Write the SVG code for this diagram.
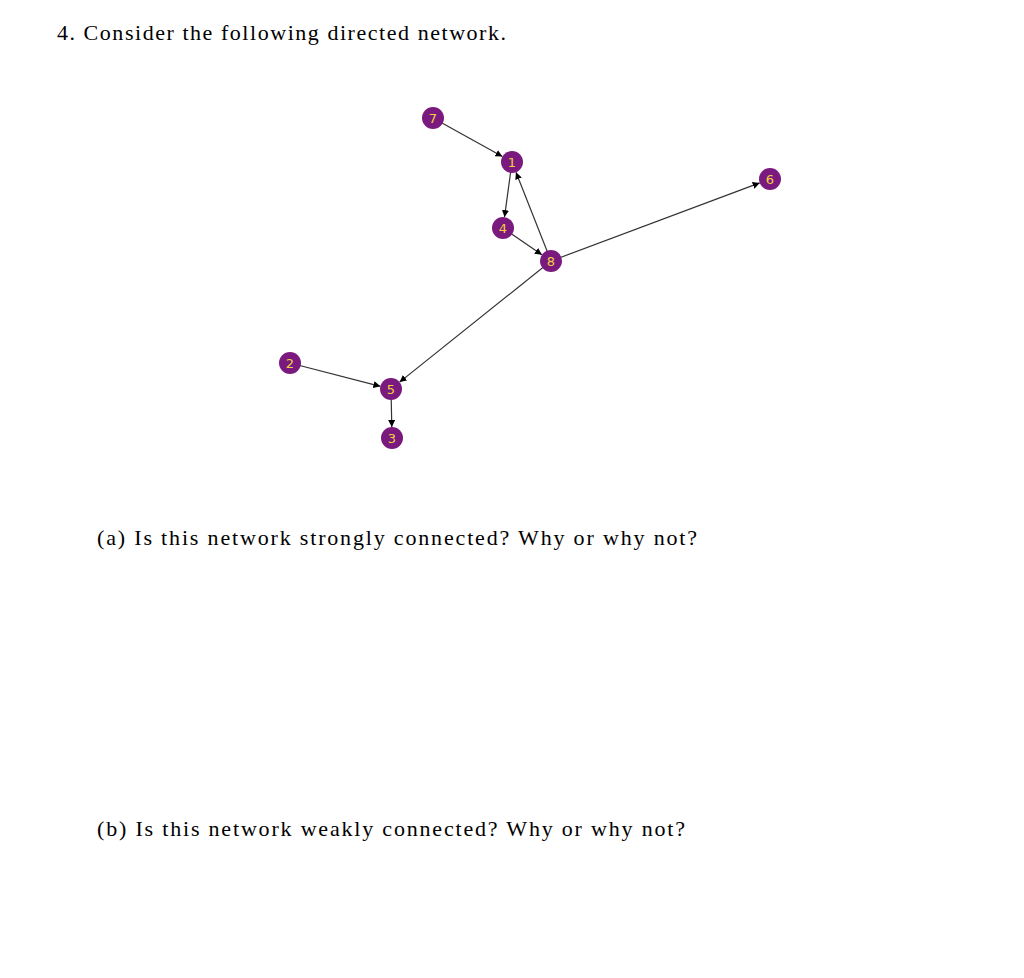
<svg xmlns="http://www.w3.org/2000/svg" width="1024" height="978" viewBox="0 0 1024 978">
<style>
.t{font-family:"Liberation Serif","DejaVu Serif",serif;font-size:22px;fill:#000}
.e{stroke:#333;stroke-width:1.2;fill:none;marker-end:url(#a)}
.n circle{fill:#7b1a7e}
.n text{font-family:"DejaVu Sans",sans-serif;font-size:13px;fill:#f0d040;text-anchor:middle;dominant-baseline:central}
</style>
<defs><marker id="a" viewBox="0 0 10 10" refX="10" refY="5" markerWidth="7" markerHeight="7" markerUnits="userSpaceOnUse" orient="auto"><path d="M0,0L10,5L0,10z" fill="#000"/></marker></defs>
<rect width="1024" height="978" fill="#fff"/>
<text class="t" x="57" y="40" textLength="449">4. Consider the following directed network.</text>
<text class="t" x="97" y="545" textLength="600">(a) Is this network strongly connected? Why or why not?</text>
<text class="t" x="97" y="836" textLength="588">(b) Is this network weakly connected? Why or why not?</text>
<g id="edges">
<line class="e" x1="433" y1="118" x2="502.4" y2="156.6"/>
<line class="e" x1="512" y1="162" x2="504.5" y2="217.1"/>
<line class="e" x1="503" y1="228" x2="541.9" y2="254.8"/>
<line class="e" x1="551" y1="261" x2="516" y2="172.2"/>
<line class="e" x1="551" y1="261" x2="759.7" y2="182.9"/>
<line class="e" x1="551" y1="261" x2="399.6" y2="382.1"/>
<line class="e" x1="290" y1="363" x2="380.4" y2="386.3"/>
<line class="e" x1="391" y1="389" x2="391.8" y2="427"/>
</g>
<g id="n7" class="n"><circle cx="433" cy="118" r="11"/><text x="433" y="118">7</text></g>
<g id="n1" class="n"><circle cx="512" cy="162" r="11"/><text x="512" y="162">1</text></g>
<g id="n6" class="n"><circle cx="770" cy="179" r="11"/><text x="770" y="179">6</text></g>
<g id="n4" class="n"><circle cx="503" cy="228" r="11"/><text x="503" y="228">4</text></g>
<g id="n8" class="n"><circle cx="551" cy="261" r="11"/><text x="551" y="261">8</text></g>
<g id="n2" class="n"><circle cx="290" cy="363" r="11"/><text x="290" y="363">2</text></g>
<g id="n5" class="n"><circle cx="391" cy="389" r="11"/><text x="391" y="389">5</text></g>
<g id="n3" class="n"><circle cx="392" cy="438" r="11"/><text x="392" y="438">3</text></g>
</svg>
